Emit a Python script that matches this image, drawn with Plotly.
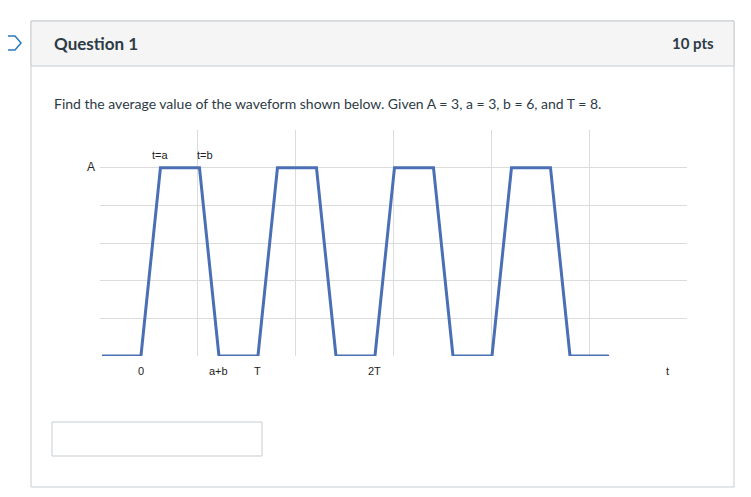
import plotly.graph_objects as go

# waveform corner points (t in units where a=1, b=3, a+b=4, T=6)
t_pts = [-2, 0, 1, 3, 4, 6, 7, 9, 10, 12, 13, 15, 16, 18, 19, 21, 22, 24]
v_pts = [0, 0, 5, 5, 0, 0, 5, 5, 0, 0, 5, 5, 0, 0, 5, 5, 0, 0]

x_labels = ["0", "a+b", "T", "2T", "t"]
x_label_pos = [0, 4, 6, 12, 27]
top_labels = ["t=a", "t=b"]
top_label_pos = [1, 3.3]

W, H = 751, 497
OFF = 8  # page margin around the plot div

def px(x):
    return (x - OFF) / W
def py(y):
    return 1 - (y - OFF) / H

fig = go.Figure()
fig.add_trace(go.Scatter(x=t_pts, y=v_pts, mode="lines",
                         line=dict(color="#4a6fb5", width=3), hoverinfo="skip"))

fig.update_layout(
    width=W, height=H, margin=dict(l=0, r=0, t=0, b=0),
    paper_bgcolor="white", plot_bgcolor="white", showlegend=False,
    font=dict(family="Lato, Arial", color="#2d3b45"),
    xaxis=dict(domain=[px(100), px(687)], range=[-2.1, 28.0], showticklabels=False,
               tick0=-2.1, dtick=5.02, showgrid=True, gridcolor="#dcdcdc", gridwidth=1,
               zeroline=False, showline=False, fixedrange=True),
    yaxis=dict(domain=[py(356), py(130)], range=[0, 6], showticklabels=False,
               dtick=1, showgrid=True, gridcolor="#dcdcdc", zeroline=False,
               showline=False, fixedrange=True),
)

shapes = [
    # outer question box
    dict(type="rect", xref="paper", yref="paper", x0=px(31), x1=px(734), y0=py(487), y1=py(21),
         line=dict(color="#c7cdd1", width=1), fillcolor="rgba(0,0,0,0)", layer="below"),
    # header band
    dict(type="rect", xref="paper", yref="paper", x0=px(31), x1=px(734), y0=py(66), y1=py(21),
         line=dict(color="#c7cdd1", width=1), fillcolor="#f5f5f5", layer="below"),
    # answer input
    dict(type="rect", xref="paper", yref="paper", x0=px(52), x1=px(262), y0=py(456), y1=py(422),
         line=dict(color="#c7cdd1", width=1), fillcolor="white"),
    # bookmark icon
    dict(type="path", xref="paper", yref="paper",
         path=f"M {px(5)},{py(36)} L {px(15)},{py(36)} L {px(21)},{py(43)} L {px(15)},{py(50)} L {px(5)},{py(50)} Z",
         line=dict(color="#2b7abc", width=1.5), fillcolor="white"),
]
fig.update_layout(shapes=shapes)

ann = [
    dict(x=px(52), y=py(43), text="<b>Question 1</b>", xanchor="left", font=dict(size=17)),
    dict(x=px(716), y=py(43), text="<b>10 pts</b>", xanchor="right", font=dict(size=15)),
    dict(x=px(52), y=py(103), text="Find the average value of the waveform shown below. Given A = 3, a = 3, b = 6, and T = 8.",
         xanchor="left", font=dict(size=14)),
    dict(x=px(85), y=py(167), text="A", font=dict(size=12, family="Arial", color="#222")),
]
for a in ann:
    a.update(xref="paper", yref="paper", showarrow=False, yanchor="middle")
for lab, pos in zip(x_labels, x_label_pos):
    ann.append(dict(x=pos, y=py(371), xref="x", yref="paper", text=lab, showarrow=False,
                    yanchor="middle", font=dict(size=11, family="Arial", color="#222")))
for lab, pos in zip(top_labels, top_label_pos):
    ann.append(dict(x=pos, y=py(155), xref="x", yref="paper", text=lab, showarrow=False,
                    yanchor="middle", font=dict(size=11, family="Arial", color="#222")))
fig.update_layout(annotations=ann)

fig.write_html("out.html")
